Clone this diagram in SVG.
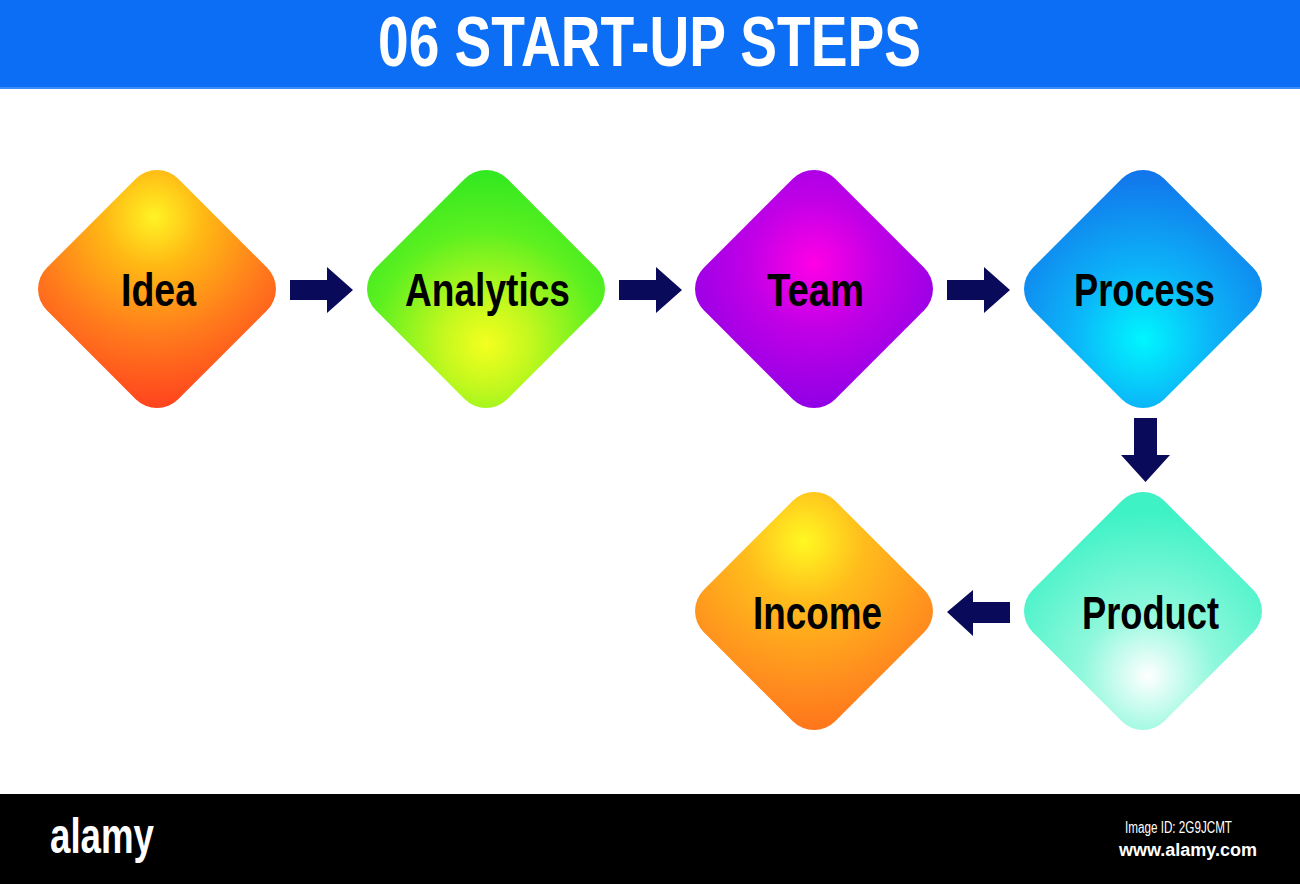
<svg xmlns="http://www.w3.org/2000/svg" xmlns:xlink="http://www.w3.org/1999/xlink" width="1300" height="884" viewBox="0 0 1300 884">
  <style>
    .label { font-family: "Liberation Sans", Arial, sans-serif; font-weight: bold; font-size: 47px; fill: #000; }
    .title { font-family: "Liberation Sans", Arial, sans-serif; font-weight: bold; font-size: 70px; fill: #fff; }
    .arrow { fill: #0a0a5a; }
    .foot { font-family: "Liberation Sans", Arial, sans-serif; fill: #fff; }
  </style>
  <defs>
    <path id="dia" d="M -21.21,-110.19 A 30 30 0 0 1 21.21,-110.19 L 110.19,-21.21 A 30 30 0 0 1 110.19,21.21 L 21.21,110.19 A 30 30 0 0 1 -21.21,110.19 L -110.19,21.21 A 30 30 0 0 1 -110.19,-21.21 Z"/>
    <radialGradient id="gIdea" gradientUnits="userSpaceOnUse" cx="-3" cy="-72" r="200">
      <stop offset="0" stop-color="#fff324"/>
      <stop offset="0.25" stop-color="#ffb814"/>
      <stop offset="0.6" stop-color="#ff7a1c"/>
      <stop offset="1" stop-color="#ff3c1e"/>
    </radialGradient>
    <radialGradient id="gAnalytics" gradientUnits="userSpaceOnUse" cx="0" cy="55" r="175">
      <stop offset="0" stop-color="#f4ff1e"/>
      <stop offset="0.25" stop-color="#c4f81e"/>
      <stop offset="0.65" stop-color="#5cf020"/>
      <stop offset="1" stop-color="#30e820"/>
    </radialGradient>
    <radialGradient id="gTeam" gradientUnits="userSpaceOnUse" cx="0" cy="-25" r="165">
      <stop offset="0" stop-color="#ff00e6"/>
      <stop offset="0.4" stop-color="#c000e6"/>
      <stop offset="1" stop-color="#8400e6"/>
    </radialGradient>
    <radialGradient id="gProcess" gradientUnits="userSpaceOnUse" cx="0" cy="50" r="175">
      <stop offset="0" stop-color="#00f6ff"/>
      <stop offset="0.4" stop-color="#0cb4f8"/>
      <stop offset="1" stop-color="#1270ea"/>
    </radialGradient>
    <radialGradient id="gProduct" gradientUnits="userSpaceOnUse" cx="5" cy="65" r="165">
      <stop offset="0" stop-color="#ffffff"/>
      <stop offset="0.4" stop-color="#90f8dc"/>
      <stop offset="1" stop-color="#3ef2c6"/>
    </radialGradient>
    <radialGradient id="gIncome" gradientUnits="userSpaceOnUse" cx="-10" cy="-70" r="200">
      <stop offset="0" stop-color="#fff822"/>
      <stop offset="0.3" stop-color="#ffbc1c"/>
      <stop offset="0.75" stop-color="#ff8a1e"/>
      <stop offset="1" stop-color="#ff701a"/>
    </radialGradient>
  </defs>

  <rect x="0" y="0" width="1300" height="884" fill="#ffffff"/>

  <g id="header">
    <rect x="0" y="0" width="1300" height="88" fill="#0b6ef5"/>
    <rect x="0" y="87" width="1300" height="2" fill="#3a8cf7"/>
    <text class="title" x="378" y="66" textLength="543" lengthAdjust="spacingAndGlyphs">06 START-UP STEPS</text>
  </g>

  <g id="node-idea" transform="translate(157,289)">
    <use xlink:href="#dia" fill="url(#gIdea)"/>
    <text class="label" x="-36" y="17" textLength="75" lengthAdjust="spacingAndGlyphs">Idea</text>
  </g>
  <g id="node-analytics" transform="translate(486,289)">
    <use xlink:href="#dia" fill="url(#gAnalytics)"/>
    <text class="label" x="-81" y="17" textLength="165" lengthAdjust="spacingAndGlyphs">Analytics</text>
  </g>
  <g id="node-team" transform="translate(814,289)">
    <use xlink:href="#dia" fill="url(#gTeam)"/>
    <text class="label" x="-47" y="17" textLength="97" lengthAdjust="spacingAndGlyphs">Team</text>
  </g>
  <g id="node-process" transform="translate(1143,289)">
    <use xlink:href="#dia" fill="url(#gProcess)"/>
    <text class="label" x="-69" y="17" textLength="141" lengthAdjust="spacingAndGlyphs">Process</text>
  </g>
  <g id="node-product" transform="translate(1143,611)">
    <use xlink:href="#dia" fill="url(#gProduct)"/>
    <text class="label" x="-61" y="18" textLength="137" lengthAdjust="spacingAndGlyphs">Product</text>
  </g>
  <g id="node-income" transform="translate(814,611)">
    <use xlink:href="#dia" fill="url(#gIncome)"/>
    <text class="label" x="-61" y="18" textLength="129" lengthAdjust="spacingAndGlyphs">Income</text>
  </g>

  <g id="connectors">
    <polygon class="arrow" points="290,280 327,280 327,267 353,290 327,313 327,300 290,300"/>
    <polygon class="arrow" points="619,280 656,280 656,267 682,290 656,313 656,300 619,300"/>
    <polygon class="arrow" points="947,280 984,280 984,267 1010,290 984,313 984,300 947,300"/>
    <polygon class="arrow" points="1134,418 1157,418 1157,455 1170,455 1145.5,482 1121,455 1134,455"/>
    <polygon class="arrow" points="1010,602 973,602 973,590 947,612 973,636 973,623 1010,623"/>
  </g>

  <g id="footer">
    <rect x="0" y="794" width="1300" height="90" fill="#000000"/>
    <text class="foot" x="50" y="853" font-size="50" font-weight="bold" textLength="104" lengthAdjust="spacingAndGlyphs">alamy</text>
    <text class="foot" x="1125" y="833" font-size="16" textLength="107" lengthAdjust="spacingAndGlyphs">Image ID: 2G9JCMT</text>
    <text class="foot" x="1119" y="856" font-size="18" font-weight="bold" textLength="138" lengthAdjust="spacingAndGlyphs">www.alamy.com</text>
  </g>
</svg>
